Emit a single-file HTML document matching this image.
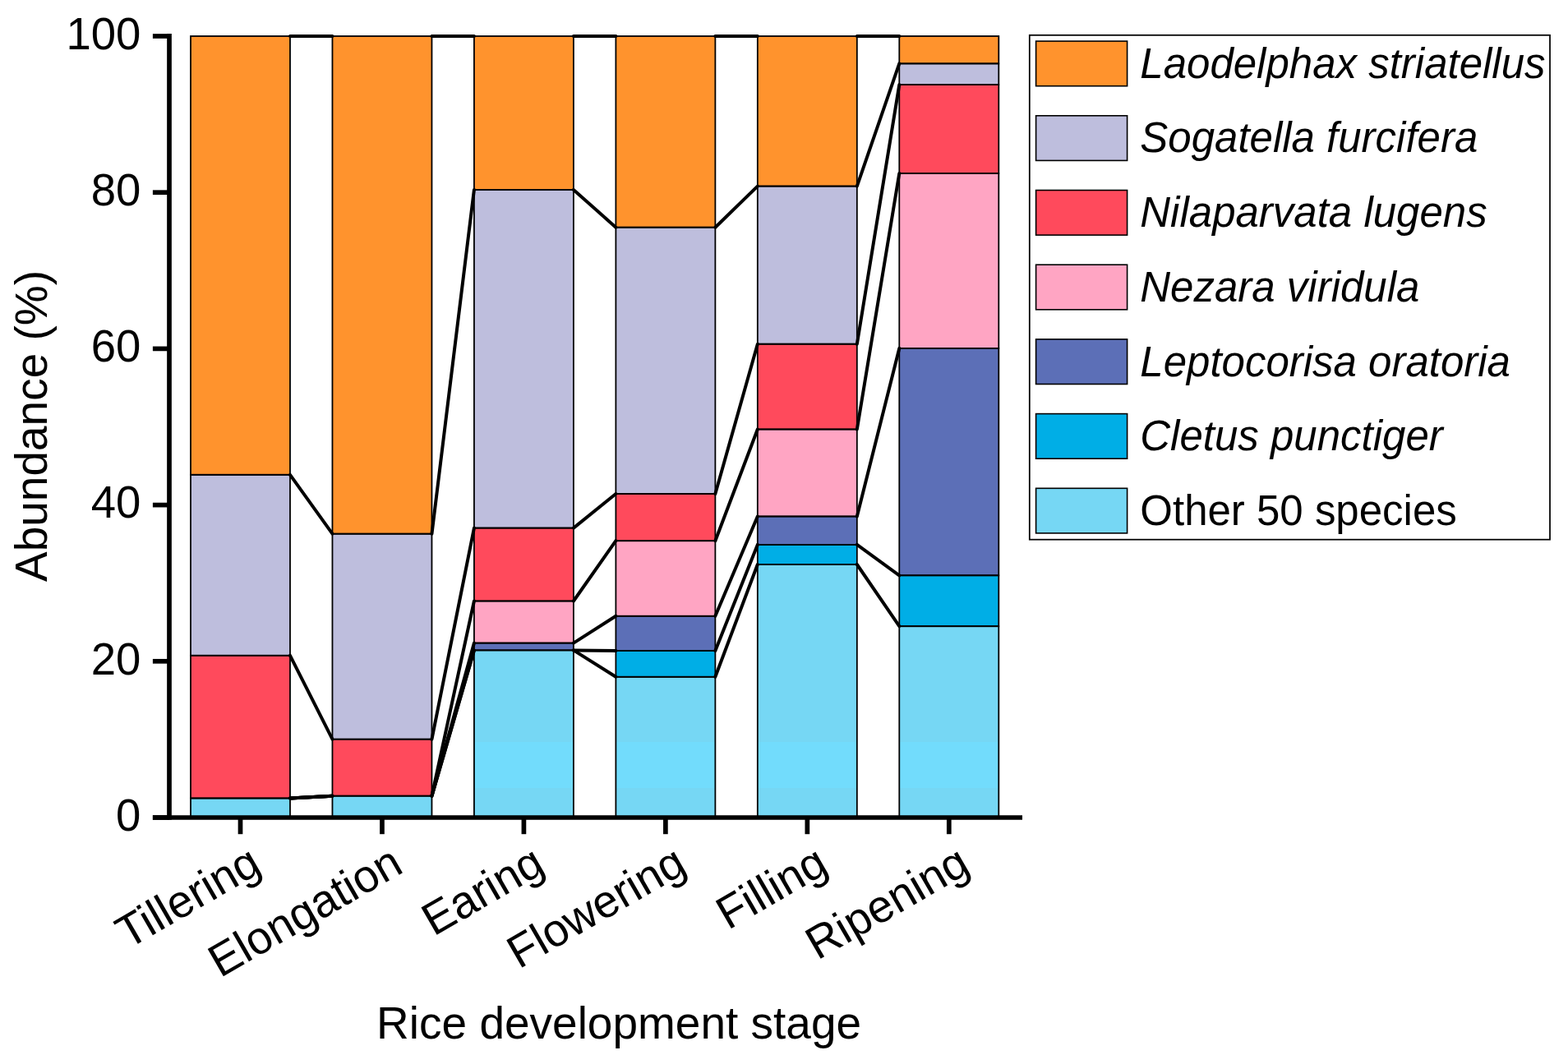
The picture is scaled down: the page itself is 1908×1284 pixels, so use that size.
<!DOCTYPE html>
<html><head><meta charset="utf-8"><title>Rice development stage abundance</title>
<style>
html,body{margin:0;padding:0;background:#fff;}
body{width:1908px;height:1284px;overflow:hidden;}
svg{display:block;}
.t{font-family:"Liberation Sans",Arial,sans-serif;font-size:55px;fill:#000;}
.n{font-family:"Liberation Sans",Arial,sans-serif;font-size:54.5px;fill:#000;}
.li{font-family:"Liberation Sans",Arial,sans-serif;font-size:51px;font-style:italic;fill:#000;}
.lr{font-family:"Liberation Sans",Arial,sans-serif;font-size:51px;fill:#000;}
</style></head>
<body>
<svg width="1908" height="1284" viewBox="0 0 1908 1284">
<rect width="1908" height="1284" fill="#fff"/>
<rect x="232.00" y="971.50" width="121.00" height="23.50" fill="#76D7F4"/>
<rect x="232.00" y="797.80" width="121.00" height="173.70" fill="#FF4A5C"/>
<rect x="232.00" y="577.80" width="121.00" height="220.00" fill="#BEBEDD"/>
<rect x="232.00" y="44.00" width="121.00" height="533.80" fill="#FF932D"/>
<rect x="404.46" y="968.70" width="121.00" height="26.30" fill="#76D7F4"/>
<rect x="404.46" y="899.70" width="121.00" height="69.00" fill="#FF4A5C"/>
<rect x="404.46" y="649.70" width="121.00" height="250.00" fill="#BEBEDD"/>
<rect x="404.46" y="44.00" width="121.00" height="605.70" fill="#FF932D"/>
<rect x="576.92" y="791.40" width="121.00" height="203.60" fill="#76D7F4"/>
<rect x="576.92" y="782.60" width="121.00" height="8.80" fill="#5C6FB7"/>
<rect x="576.92" y="731.50" width="121.00" height="51.10" fill="#FFA5C3"/>
<rect x="576.92" y="642.60" width="121.00" height="88.90" fill="#FF4A5C"/>
<rect x="576.92" y="230.90" width="121.00" height="411.70" fill="#BEBEDD"/>
<rect x="576.92" y="44.00" width="121.00" height="186.90" fill="#FF932D"/>
<rect x="749.38" y="823.80" width="121.00" height="171.20" fill="#76D7F4"/>
<rect x="749.38" y="791.90" width="121.00" height="31.90" fill="#00AEE6"/>
<rect x="749.38" y="749.80" width="121.00" height="42.10" fill="#5C6FB7"/>
<rect x="749.38" y="658.20" width="121.00" height="91.60" fill="#FFA5C3"/>
<rect x="749.38" y="601.00" width="121.00" height="57.20" fill="#FF4A5C"/>
<rect x="749.38" y="276.70" width="121.00" height="324.30" fill="#BEBEDD"/>
<rect x="749.38" y="44.00" width="121.00" height="232.70" fill="#FF932D"/>
<rect x="921.84" y="687.00" width="121.00" height="308.00" fill="#76D7F4"/>
<rect x="921.84" y="662.90" width="121.00" height="24.10" fill="#00AEE6"/>
<rect x="921.84" y="628.50" width="121.00" height="34.40" fill="#5C6FB7"/>
<rect x="921.84" y="522.50" width="121.00" height="106.00" fill="#FFA5C3"/>
<rect x="921.84" y="418.70" width="121.00" height="103.80" fill="#FF4A5C"/>
<rect x="921.84" y="226.60" width="121.00" height="192.10" fill="#BEBEDD"/>
<rect x="921.84" y="44.00" width="121.00" height="182.60" fill="#FF932D"/>
<rect x="1094.30" y="762.20" width="121.00" height="232.80" fill="#76D7F4"/>
<rect x="1094.30" y="700.30" width="121.00" height="61.90" fill="#00AEE6"/>
<rect x="1094.30" y="423.90" width="121.00" height="276.40" fill="#5C6FB7"/>
<rect x="1094.30" y="211.00" width="121.00" height="212.90" fill="#FFA5C3"/>
<rect x="1094.30" y="103.10" width="121.00" height="107.90" fill="#FF4A5C"/>
<rect x="1094.30" y="77.40" width="121.00" height="25.70" fill="#BEBEDD"/>
<rect x="1094.30" y="44.00" width="121.00" height="33.40" fill="#FF932D"/>
<rect x="576.92" y="903.0" width="121.00" height="56.0" fill="#72DCFC"/>
<rect x="749.38" y="903.0" width="121.00" height="56.0" fill="#72DCFC"/>
<rect x="921.84" y="903.0" width="121.00" height="56.0" fill="#72DCFC"/>
<rect x="1094.30" y="903.0" width="121.00" height="56.0" fill="#72DCFC"/>
<rect x="232.00" y="971.50" width="121.00" height="23.50" fill="none" stroke="#000" stroke-width="1.8"/>
<rect x="232.00" y="797.80" width="121.00" height="173.70" fill="none" stroke="#000" stroke-width="1.8"/>
<rect x="232.00" y="577.80" width="121.00" height="220.00" fill="none" stroke="#000" stroke-width="1.8"/>
<rect x="232.00" y="44.00" width="121.00" height="533.80" fill="none" stroke="#000" stroke-width="1.8"/>
<rect x="404.46" y="968.70" width="121.00" height="26.30" fill="none" stroke="#000" stroke-width="1.8"/>
<rect x="404.46" y="899.70" width="121.00" height="69.00" fill="none" stroke="#000" stroke-width="1.8"/>
<rect x="404.46" y="649.70" width="121.00" height="250.00" fill="none" stroke="#000" stroke-width="1.8"/>
<rect x="404.46" y="44.00" width="121.00" height="605.70" fill="none" stroke="#000" stroke-width="1.8"/>
<rect x="576.92" y="791.40" width="121.00" height="203.60" fill="none" stroke="#000" stroke-width="1.8"/>
<rect x="576.92" y="782.60" width="121.00" height="8.80" fill="none" stroke="#000" stroke-width="1.8"/>
<rect x="576.92" y="731.50" width="121.00" height="51.10" fill="none" stroke="#000" stroke-width="1.8"/>
<rect x="576.92" y="642.60" width="121.00" height="88.90" fill="none" stroke="#000" stroke-width="1.8"/>
<rect x="576.92" y="230.90" width="121.00" height="411.70" fill="none" stroke="#000" stroke-width="1.8"/>
<rect x="576.92" y="44.00" width="121.00" height="186.90" fill="none" stroke="#000" stroke-width="1.8"/>
<rect x="749.38" y="823.80" width="121.00" height="171.20" fill="none" stroke="#000" stroke-width="1.8"/>
<rect x="749.38" y="791.90" width="121.00" height="31.90" fill="none" stroke="#000" stroke-width="1.8"/>
<rect x="749.38" y="749.80" width="121.00" height="42.10" fill="none" stroke="#000" stroke-width="1.8"/>
<rect x="749.38" y="658.20" width="121.00" height="91.60" fill="none" stroke="#000" stroke-width="1.8"/>
<rect x="749.38" y="601.00" width="121.00" height="57.20" fill="none" stroke="#000" stroke-width="1.8"/>
<rect x="749.38" y="276.70" width="121.00" height="324.30" fill="none" stroke="#000" stroke-width="1.8"/>
<rect x="749.38" y="44.00" width="121.00" height="232.70" fill="none" stroke="#000" stroke-width="1.8"/>
<rect x="921.84" y="687.00" width="121.00" height="308.00" fill="none" stroke="#000" stroke-width="1.8"/>
<rect x="921.84" y="662.90" width="121.00" height="24.10" fill="none" stroke="#000" stroke-width="1.8"/>
<rect x="921.84" y="628.50" width="121.00" height="34.40" fill="none" stroke="#000" stroke-width="1.8"/>
<rect x="921.84" y="522.50" width="121.00" height="106.00" fill="none" stroke="#000" stroke-width="1.8"/>
<rect x="921.84" y="418.70" width="121.00" height="103.80" fill="none" stroke="#000" stroke-width="1.8"/>
<rect x="921.84" y="226.60" width="121.00" height="192.10" fill="none" stroke="#000" stroke-width="1.8"/>
<rect x="921.84" y="44.00" width="121.00" height="182.60" fill="none" stroke="#000" stroke-width="1.8"/>
<rect x="1094.30" y="762.20" width="121.00" height="232.80" fill="none" stroke="#000" stroke-width="1.8"/>
<rect x="1094.30" y="700.30" width="121.00" height="61.90" fill="none" stroke="#000" stroke-width="1.8"/>
<rect x="1094.30" y="423.90" width="121.00" height="276.40" fill="none" stroke="#000" stroke-width="1.8"/>
<rect x="1094.30" y="211.00" width="121.00" height="212.90" fill="none" stroke="#000" stroke-width="1.8"/>
<rect x="1094.30" y="103.10" width="121.00" height="107.90" fill="none" stroke="#000" stroke-width="1.8"/>
<rect x="1094.30" y="77.40" width="121.00" height="25.70" fill="none" stroke="#000" stroke-width="1.8"/>
<rect x="1094.30" y="44.00" width="121.00" height="33.40" fill="none" stroke="#000" stroke-width="1.8"/>
<line x1="353.00" y1="971.50" x2="404.46" y2="968.70" stroke="#000" stroke-width="4.0" stroke-linecap="round"/>
<line x1="353.00" y1="971.50" x2="404.46" y2="968.70" stroke="#000" stroke-width="4.0" stroke-linecap="round"/>
<line x1="353.00" y1="971.50" x2="404.46" y2="968.70" stroke="#000" stroke-width="4.0" stroke-linecap="round"/>
<line x1="353.00" y1="971.50" x2="404.46" y2="968.70" stroke="#000" stroke-width="4.0" stroke-linecap="round"/>
<line x1="353.00" y1="797.80" x2="404.46" y2="899.70" stroke="#000" stroke-width="4.0" stroke-linecap="round"/>
<line x1="353.00" y1="577.80" x2="404.46" y2="649.70" stroke="#000" stroke-width="4.0" stroke-linecap="round"/>
<line x1="353.00" y1="44.00" x2="404.46" y2="44.00" stroke="#000" stroke-width="4.0" stroke-linecap="round"/>
<line x1="525.46" y1="968.70" x2="576.92" y2="791.40" stroke="#000" stroke-width="4.0" stroke-linecap="round"/>
<line x1="525.46" y1="968.70" x2="576.92" y2="791.40" stroke="#000" stroke-width="4.0" stroke-linecap="round"/>
<line x1="525.46" y1="968.70" x2="576.92" y2="782.60" stroke="#000" stroke-width="4.0" stroke-linecap="round"/>
<line x1="525.46" y1="968.70" x2="576.92" y2="731.50" stroke="#000" stroke-width="4.0" stroke-linecap="round"/>
<line x1="525.46" y1="899.70" x2="576.92" y2="642.60" stroke="#000" stroke-width="4.0" stroke-linecap="round"/>
<line x1="525.46" y1="649.70" x2="576.92" y2="230.90" stroke="#000" stroke-width="4.0" stroke-linecap="round"/>
<line x1="525.46" y1="44.00" x2="576.92" y2="44.00" stroke="#000" stroke-width="4.0" stroke-linecap="round"/>
<line x1="697.92" y1="791.40" x2="749.38" y2="823.80" stroke="#000" stroke-width="4.0" stroke-linecap="round"/>
<line x1="697.92" y1="791.40" x2="749.38" y2="791.90" stroke="#000" stroke-width="4.0" stroke-linecap="round"/>
<line x1="697.92" y1="782.60" x2="749.38" y2="749.80" stroke="#000" stroke-width="4.0" stroke-linecap="round"/>
<line x1="697.92" y1="731.50" x2="749.38" y2="658.20" stroke="#000" stroke-width="4.0" stroke-linecap="round"/>
<line x1="697.92" y1="642.60" x2="749.38" y2="601.00" stroke="#000" stroke-width="4.0" stroke-linecap="round"/>
<line x1="697.92" y1="230.90" x2="749.38" y2="276.70" stroke="#000" stroke-width="4.0" stroke-linecap="round"/>
<line x1="697.92" y1="44.00" x2="749.38" y2="44.00" stroke="#000" stroke-width="4.0" stroke-linecap="round"/>
<line x1="870.38" y1="823.80" x2="921.84" y2="687.00" stroke="#000" stroke-width="4.0" stroke-linecap="round"/>
<line x1="870.38" y1="791.90" x2="921.84" y2="662.90" stroke="#000" stroke-width="4.0" stroke-linecap="round"/>
<line x1="870.38" y1="749.80" x2="921.84" y2="628.50" stroke="#000" stroke-width="4.0" stroke-linecap="round"/>
<line x1="870.38" y1="658.20" x2="921.84" y2="522.50" stroke="#000" stroke-width="4.0" stroke-linecap="round"/>
<line x1="870.38" y1="601.00" x2="921.84" y2="418.70" stroke="#000" stroke-width="4.0" stroke-linecap="round"/>
<line x1="870.38" y1="276.70" x2="921.84" y2="226.60" stroke="#000" stroke-width="4.0" stroke-linecap="round"/>
<line x1="870.38" y1="44.00" x2="921.84" y2="44.00" stroke="#000" stroke-width="4.0" stroke-linecap="round"/>
<line x1="1042.84" y1="687.00" x2="1094.30" y2="762.20" stroke="#000" stroke-width="4.0" stroke-linecap="round"/>
<line x1="1042.84" y1="662.90" x2="1094.30" y2="700.30" stroke="#000" stroke-width="4.0" stroke-linecap="round"/>
<line x1="1042.84" y1="628.50" x2="1094.30" y2="423.90" stroke="#000" stroke-width="4.0" stroke-linecap="round"/>
<line x1="1042.84" y1="522.50" x2="1094.30" y2="211.00" stroke="#000" stroke-width="4.0" stroke-linecap="round"/>
<line x1="1042.84" y1="418.70" x2="1094.30" y2="103.10" stroke="#000" stroke-width="4.0" stroke-linecap="round"/>
<line x1="1042.84" y1="226.60" x2="1094.30" y2="77.40" stroke="#000" stroke-width="4.0" stroke-linecap="round"/>
<line x1="1042.84" y1="44.00" x2="1094.30" y2="44.00" stroke="#000" stroke-width="4.0" stroke-linecap="round"/>
<line x1="206.0" y1="41.1" x2="206.0" y2="997.85" stroke="#000" stroke-width="5.7"/>
<line x1="185.9" y1="995.0" x2="1244.0" y2="995.0" stroke="#000" stroke-width="5.7"/>
<line x1="185.9" y1="995.00" x2="206.0" y2="995.00" stroke="#000" stroke-width="5.7"/>
<text transform="translate(171.3,1010.80) scale(1,1.03)" text-anchor="end" class="n">0</text>
<line x1="185.9" y1="804.80" x2="206.0" y2="804.80" stroke="#000" stroke-width="5.7"/>
<text transform="translate(171.3,820.60) scale(1,1.03)" text-anchor="end" class="n">20</text>
<line x1="185.9" y1="614.60" x2="206.0" y2="614.60" stroke="#000" stroke-width="5.7"/>
<text transform="translate(171.3,630.40) scale(1,1.03)" text-anchor="end" class="n">40</text>
<line x1="185.9" y1="424.40" x2="206.0" y2="424.40" stroke="#000" stroke-width="5.7"/>
<text transform="translate(171.3,440.20) scale(1,1.03)" text-anchor="end" class="n">60</text>
<line x1="185.9" y1="234.20" x2="206.0" y2="234.20" stroke="#000" stroke-width="5.7"/>
<text transform="translate(171.3,250.00) scale(1,1.03)" text-anchor="end" class="n">80</text>
<line x1="185.9" y1="44.00" x2="206.0" y2="44.00" stroke="#000" stroke-width="5.7"/>
<text transform="translate(171.3,59.80) scale(1,1.03)" text-anchor="end" class="n">100</text>
<line x1="292.50" y1="995.0" x2="292.50" y2="1015.2" stroke="#000" stroke-width="5.7"/>
<text transform="translate(320.50,1060.50) rotate(-30) scale(1,1.015)" text-anchor="end" class="t">Tillering</text>
<line x1="464.96" y1="995.0" x2="464.96" y2="1015.2" stroke="#000" stroke-width="5.7"/>
<text transform="translate(492.96,1060.50) rotate(-30) scale(1,1.015)" text-anchor="end" class="t">Elongation</text>
<line x1="637.42" y1="995.0" x2="637.42" y2="1015.2" stroke="#000" stroke-width="5.7"/>
<text transform="translate(665.42,1060.50) rotate(-30) scale(1,1.015)" text-anchor="end" class="t">Earing</text>
<line x1="809.88" y1="995.0" x2="809.88" y2="1015.2" stroke="#000" stroke-width="5.7"/>
<text transform="translate(837.88,1060.50) rotate(-30) scale(1,1.015)" text-anchor="end" class="t">Flowering</text>
<line x1="982.34" y1="995.0" x2="982.34" y2="1015.2" stroke="#000" stroke-width="5.7"/>
<text transform="translate(1010.34,1060.50) rotate(-30) scale(1,1.015)" text-anchor="end" class="t">Filling</text>
<line x1="1154.80" y1="995.0" x2="1154.80" y2="1015.2" stroke="#000" stroke-width="5.7"/>
<text transform="translate(1182.80,1060.50) rotate(-30) scale(1,1.015)" text-anchor="end" class="t">Ripening</text>
<text transform="translate(57.1,518.5) rotate(-90) scale(1,1.015)" text-anchor="middle" class="t">Abundance (%)</text>
<text transform="translate(753.1,1264.2) scale(1,1.015)" text-anchor="middle" class="t">Rice development stage</text>
<rect x="1252.8" y="42.8" width="633.2" height="613.9" fill="none" stroke="#000" stroke-width="1.75"/>
<rect x="1260.6" y="50.10" width="111.0" height="54.6" fill="#FF932D" stroke="#000" stroke-width="1.6"/>
<text transform="translate(1387.3,94.70) scale(1,1.015)" class="li">Laodelphax striatellus</text>
<rect x="1260.6" y="140.80" width="111.0" height="54.6" fill="#BEBEDD" stroke="#000" stroke-width="1.6"/>
<text transform="translate(1387.3,185.40) scale(1,1.015)" class="li">Sogatella furcifera</text>
<rect x="1260.6" y="231.50" width="111.0" height="54.6" fill="#FF4A5C" stroke="#000" stroke-width="1.6"/>
<text transform="translate(1387.3,276.10) scale(1,1.015)" class="li">Nilaparvata lugens</text>
<rect x="1260.6" y="322.20" width="111.0" height="54.6" fill="#FFA5C3" stroke="#000" stroke-width="1.6"/>
<text transform="translate(1387.3,366.80) scale(1,1.015)" class="li">Nezara viridula</text>
<rect x="1260.6" y="412.90" width="111.0" height="54.6" fill="#5C6FB7" stroke="#000" stroke-width="1.6"/>
<text transform="translate(1387.3,457.50) scale(1,1.015)" class="li">Leptocorisa oratoria</text>
<rect x="1260.6" y="503.60" width="111.0" height="54.6" fill="#00AEE6" stroke="#000" stroke-width="1.6"/>
<text transform="translate(1387.3,548.20) scale(1,1.015)" class="li">Cletus punctiger</text>
<rect x="1260.6" y="594.30" width="111.0" height="54.6" fill="#76D7F4" stroke="#000" stroke-width="1.6"/>
<text transform="translate(1387.3,638.90) scale(1,1.015)" class="lr">Other 50 species</text>
</svg>
</body></html>
